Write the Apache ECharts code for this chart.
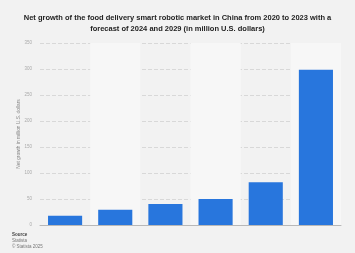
<!DOCTYPE html>
<html><head><meta charset="utf-8">
<script src="https://cdn.jsdelivr.net/npm/echarts@6/dist/echarts.min.js"></script>
<style>html,body{margin:0;padding:0;background:#f2f2f2;}#c{width:355px;height:253px;}</style>
</head><body><div id="c"></div>
<script>
const categories = ['2020', '2021', '2022', '2023', '2024*', '2029*'];
const values = [17.7, 29.2, 40.6, 50.2, 82, 298.5];
const yTicks = [0, 50, 100, 150, 200, 250, 300, 350];

const chart = echarts.init(document.getElementById('c'), null, {renderer: 'canvas'});
chart.setOption({
  backgroundColor: '#f2f2f2',
  animation: false,
  title: {
    text: 'Net growth of the food delivery smart robotic market in China from 2020 to 2023 with a\nforecast of 2024 and 2029 (in million U.S. dollars)',
    left: 'center', top: 7,
    textStyle: {fontFamily: 'Liberation Sans', fontSize: 7.5, fontWeight: 'bold', color: '#222', lineHeight: 11, align: 'center'}
  },
  graphic: [
    {type: 'text', left: 12, top: 232, style: {text: 'Source', font: 'bold 4.5px "Liberation Sans"', fill: '#444'}},
    {type: 'text', left: 12, top: 238, style: {text: 'Statista', font: '4.5px "Liberation Sans"', fill: '#777'}},
    {type: 'text', left: 12, top: 244, style: {text: '© Statista 2025', font: '4.5px "Liberation Sans"', fill: '#777'}}
  ],
  grid: {left: 40, right: 14, top: 43, bottom: 28, containLabel: false},
  xAxis: {
    type: 'category', data: categories,
    axisLine: {show: true, lineStyle: {color: '#b8b8b8', width: 1}},
    axisTick: {show: false},
    axisLabel: {show: false},
    splitArea: {show: true, areaStyle: {color: ['rgba(0,0,0,0)', '#f7f7f7']}}
  },
  yAxis: {
    type: 'value', min: yTicks[0], max: yTicks[yTicks.length - 1], interval: 50,
    name: 'Net growth in million U.S. dollars',
    nameLocation: 'middle', nameGap: 19, nameRotate: 90, nameMoveOverlap: false,
    nameTextStyle: {fontFamily: 'Liberation Sans', fontSize: 4.8, color: '#888'},
    axisLine: {show: false}, axisTick: {show: false},
    axisLabel: {fontFamily: 'Liberation Sans', fontSize: 4.5, color: '#aaa', margin: 8},
    splitLine: {show: true, lineStyle: {color: '#d8d8d8', type: [4, 2], width: 1}}
  },
  series: [{
    type: 'bar', data: values, barWidth: '68%',
    itemStyle: {color: '#2876dd'}
  }]
});
</script></body></html>
